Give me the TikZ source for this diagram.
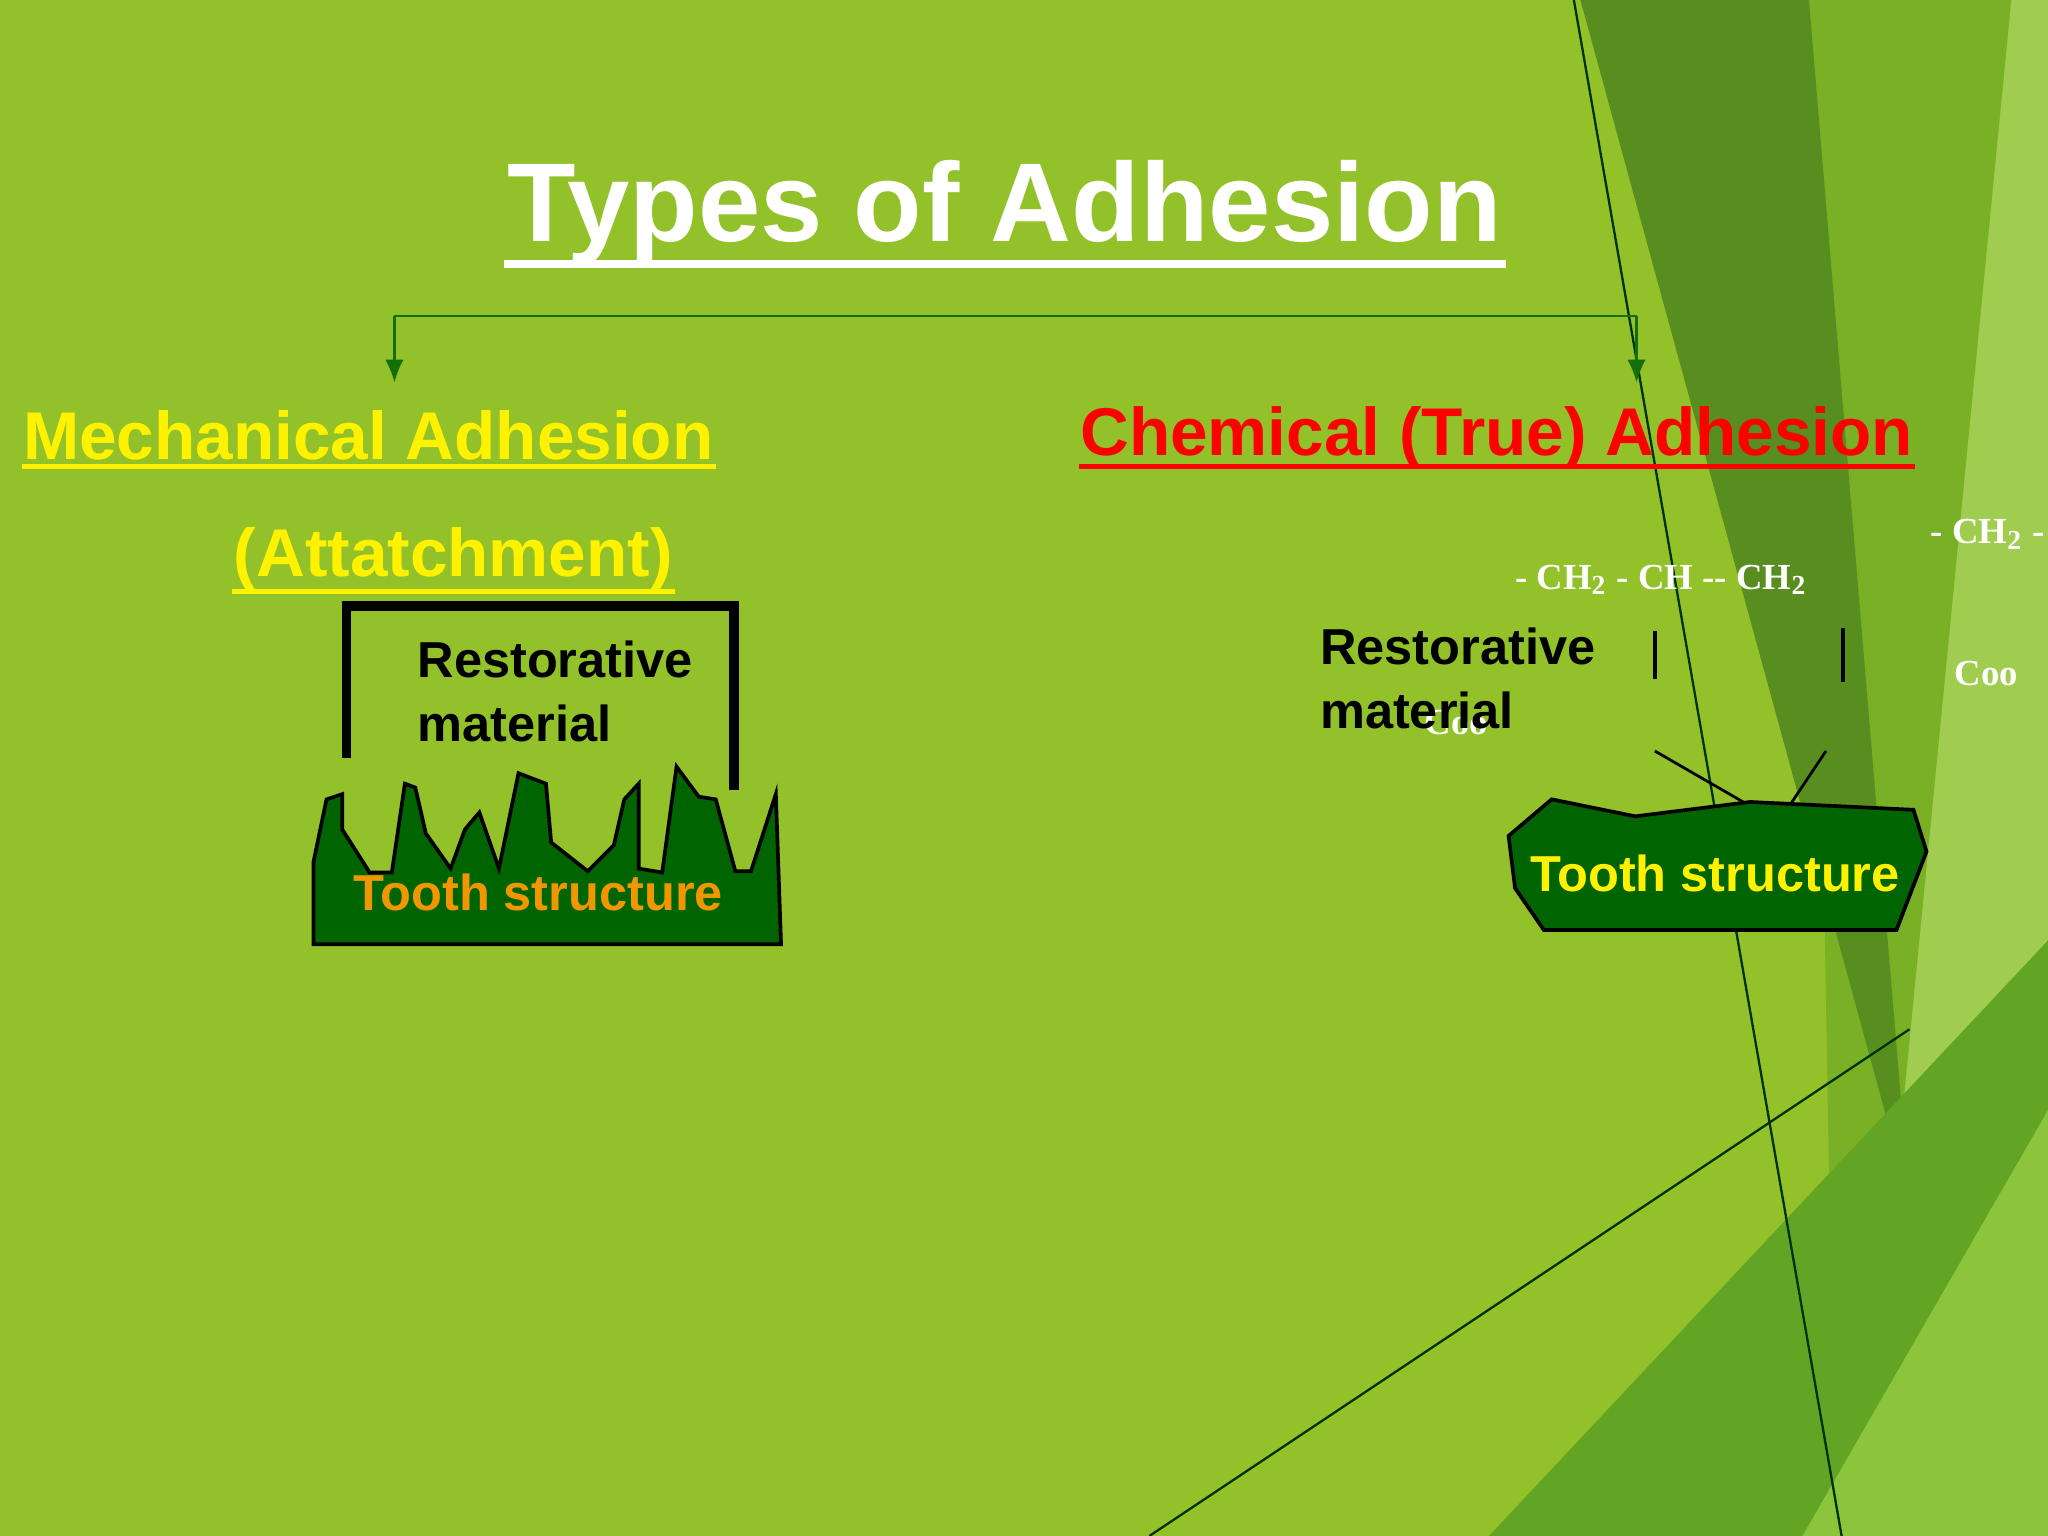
\documentclass[tikz,border=0pt]{standalone}
\usepackage{fontspec}
\setmainfont{Liberation Sans}
\newfontfamily\serifb{Liberation Serif}
\definecolor{bg}{RGB}{146,193,41}
\definecolor{stripeA}{RGB}{88,142,32}
\definecolor{stripeB}{RGB}{122,176,38}
\definecolor{stripeC}{RGB}{160,204,80}
\definecolor{stripeD}{RGB}{98,164,35}
\definecolor{stripeE}{RGB}{140,196,60}
\definecolor{tooth}{RGB}{0,100,0}
\definecolor{orangeT}{RGB}{240,150,0}
\definecolor{arrowg}{RGB}{20,110,10}
\usetikzlibrary{arrows.meta}
\tikzset{
 head/.style={font=\bfseries\fontsize{14.7}{17}\selectfont, inner sep=0pt},
 body/.style={font=\bfseries\fontsize{11}{14}\selectfont, inner sep=0pt, align=left},
 chem/.style={font=\serifb\bfseries\fontsize{8}{10}\selectfont, text=white, inner sep=0pt},
 toothfill/.style={fill=tooth, draw=black, line width=0.8pt},
 conn/.style={draw=arrowg, line width=0.6pt, -{Latex[length=5pt,width=4pt]}}
}
\begin{document}
\begin{tikzpicture}[x=0.01cm,y=-0.01cm]
\fill[bg] (0,0) rectangle (1568,1176);
\useasboundingbox (0,0) rectangle (1568,1176);
% decorative stripes
\fill[stripeB] (1385,0) -- (1540,0) -- (1425,1176) -- (1405,1176) -- cycle;
\fill[stripeC] (1540,0) -- (1568,0) -- (1568,1176) -- (1425,1176) -- cycle;
\fill[stripeA] (1210,0) -- (1385,0) -- (1462,920) -- cycle;
\fill[stripeD] (1140,1176) -- (1568,720) -- (1568,1176) -- cycle;
\fill[stripeE] (1380,1176) -- (1568,850) -- (1568,1176) -- cycle;
\draw[black!80!green, line width=0.5pt] (1205,0) -- (1410,1176);
\draw[black!80!green, line width=0.5pt] (880,1176) -- (1462,788);
% title
\node[font=\bfseries\fontsize{24.4}{28}\selectfont, text=white, inner sep=0pt] (title) at (769,163) {Types of Adhesion};
\fill[white] (386,199) rectangle (1153,205);
% connector
\coordinate (la) at (302,242);
\coordinate (ra) at (1253,242);
\coordinate (lh) at (302,293);
\coordinate (rh) at (1253,293);
\draw[arrowg, line width=0.6pt] (la) -- (ra);
\draw[conn] (la) -- (lh);
\draw[conn] (ra) -- (rh);
% headings
\node[head, text=yellow] (mech) at (282,333) {Mechanical Adhesion};
\fill[yellow] (17,355) rectangle (548,359);
\node[head, text=yellow] (att) at (347,428) {(Attatchment)};
\fill[yellow] (178,451) rectangle (517,455);
\node[head, text=red] (chemh) at (1146,335) {Chemical (True) Adhesion};
\fill[red] (826,355) rectangle (1466,359);
% left diagram
\draw[line width=2pt] (265,580) -- (265,464) -- (562,464) -- (562,605);
\node[body, anchor=north west] (rm1) at (319,490) {Restorative\\material};
\draw[toothfill] (240,723) -- (240,660) -- (250,612) -- (262,608) -- (262,635) -- (283,668) -- (300,668) -- (310,600) -- (318,603) -- (326,638) -- (345,665) -- (356,635) -- (367,622) -- (382,665) -- (397,592) -- (418,600) -- (422,645) -- (450,667) -- (470,647) -- (478,612) -- (489,600) -- (489,665) -- (507,668) -- (518,587) -- (535,610) -- (548,612) -- (563,667) -- (575,667) -- (594,608) -- (598,723) -- cycle;
\node[body, text=orangeT] (ts1) at (412,683) {Tooth structure};
% right diagram
\node[chem] (ch1) at (1272,444) {- CH\textsubscript{2} - CH -- CH\textsubscript{2}};
\node[chem] (ch2) at (1522,409) {- CH\textsubscript{2} -};
\node[chem] (coo1) at (1521,516) {Coo};
\node[chem] (coo2) at (1115,553) {Coo};
\node[body, anchor=north west] (rm2) at (1010,480) {Restorative\\material};
\draw[line width=0.8pt] (1267,483) -- (1267,520);
\draw[line width=0.8pt] (1411,481) -- (1411,522);
\draw[line width=0.6pt] (1267,575) -- (1345,620);
\draw[line width=0.6pt] (1398,575) -- (1368,620);
\draw[toothfill] (1188,612) -- (1252,625) -- (1340,614) -- (1465,620) -- (1475,652) -- (1452,712) -- (1182,712) -- (1160,680) -- (1155,640) -- cycle;
\node[body, text=yellow] (ts2) at (1313,669) {Tooth structure};
\end{tikzpicture}
\end{document}
